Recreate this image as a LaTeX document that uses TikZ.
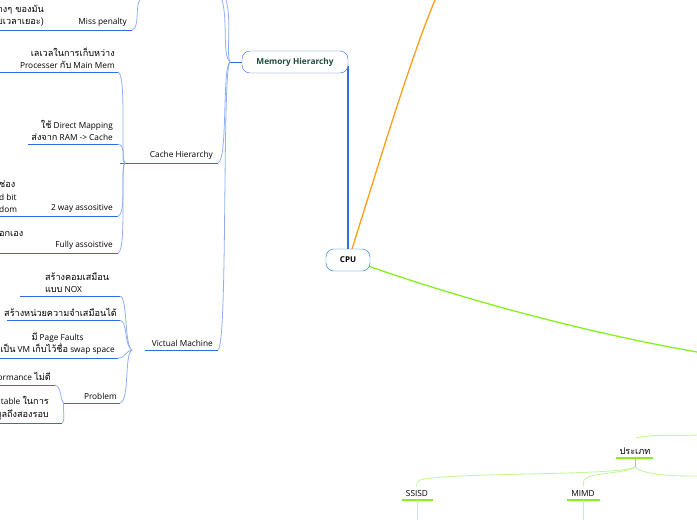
\documentclass[tikz,border=0pt]{standalone}
\usepackage{fontspec}
\setmainfont{Open Sans}
\newfontfamily\thf[Script=Thai,Scale=1.1]{Loma}
\newcommand{\T}[1]{{\thf #1}}
\definecolor{bl}{HTML}{2F6BEA}
\definecolor{lb}{HTML}{8FB0F5}
\definecolor{gr}{HTML}{88F020}
\definecolor{lg}{HTML}{C4F79A}
\definecolor{og}{HTML}{FF9E1B}
\definecolor{dg}{HTML}{1E4D3A}
\begin{document}
\begin{tikzpicture}[x=1pt,y=-1pt,
  txt/.style={font=\fontsize{8.3}{12.5}\selectfont,align=right,anchor=south east,inner sep=1pt},
  ul/.style={bl,line width=1pt},
  br/.style={lb,line width=0.8pt},
  gul/.style={gr,line width=1.3pt},
  gbr/.style={lg,line width=0.9pt}]
\useasboundingbox (0,0) rectangle (697,520);
% main edges
\draw[og,line width=1.3pt] (352,249) .. controls (380,160) and (410,60) .. (435,0);
\draw[gr,line width=1.3pt] (368,266) .. controls (480,305) and (600,335) .. (697,352);
\draw[bl,line width=1.3pt] (348,66) -- (348,249);
\node[draw=bl,rounded corners=8pt,minimum width=106,minimum height=22,fill=white,text=dg,font=\fontsize{8.3}{10}\selectfont\bfseries] (mh) at (295,62) {Memory Hierarchy};
\node[draw=cyan!60!blue,rounded corners=8pt,minimum width=44,minimum height=22,fill=white,font=\fontsize{8}{9}\selectfont\bfseries] (cpu) at (348,260) {CPU};
% left trunk
\coordinate (hub) at (230,62);
\draw[bl,line width=1pt] (mh.west) -- (hub);
\draw[br] (hub) .. controls (222,55) and (228,20) .. (222,0);
\draw[br] (hub) .. controls (226,55) and (232,20) .. (226,0);
% Cache Hierarchy
\node[txt] (ch) at (214,161) {Cache Hierarchy};
\draw[ul] (120,163) -- (218,163);
\draw[br] (218,163) .. controls (228,160) and (222,66) .. (hub);
% Victual Machine
\node[txt] (vm) at (214,348) {Victual Machine};
\draw[ul] (145,350) -- (218,350);
\draw[br] (218,350) .. controls (228,345) and (222,66) .. (hub);
% Miss penalty
\node[txt] (mp) at (128,28) {Miss penalty};
\node[txt] (mpt) at (45,28) {\T{ร่างๆ ของมัน}\\\T{ยเวลาเยอะ)}};
\draw[ul] (0,30) -- (132,30);
\draw[br] (132,30) .. controls (140,28) and (135,5) .. (140,0);
% cache children
\coordinate (chh) at (125,163);
\node[txt] (c1) at (116,70) {\T{เลเวลในการเก็บหว่าง}\\Processer \T{กับ} Main Mem};
\draw[ul] (0,72) -- (118,72);
\draw[br] (118,72) .. controls (127,74) and (120,160) .. (chh);
\node[txt] (c2) at (114,142) {\T{ใช้} Direct Mapping\\\T{ส่งจาก} RAM -> Cache};
\draw[ul] (28,144) -- (118,144);
\draw[br] (118,144) .. controls (127,146) and (120,160) .. (chh);
\node[txt] (c3) at (114,214) {2 way assositive};
\node[txt,align=left,anchor=south west] (c3t) at (-2,214) {\T{ช่อง}\\d bit\\dom};
\draw[ul] (0,216) -- (118,216);
\draw[br] (118,216) .. controls (127,214) and (120,166) .. (chh);
\node[txt] (c4) at (114,251) {Fully assoistive};
\node[txt,align=left,anchor=south west] (c4t) at (-2,238) {\T{อกเอง}};
\draw[ul] (0,253) -- (118,253);
\draw[br] (118,253) .. controls (127,251) and (120,166) .. (chh);
% VM children
\coordinate (vmh) at (132,350);
\node[txt,align=left] (v1) at (118,294) {\T{สร้างคอมเสมือน}\\\T{แบบ} NOX\phantom{xxxxxxxx}};
\draw[ul] (20,296) -- (120,296);
\draw[br] (120,296) .. controls (128,298) and (124,346) .. (vmh);
\node[txt] (v2) at (118,318) {\T{สร้างหน่วยความจำเสมือนได้}};
\draw[ul] (7,320) -- (120,320);
\draw[br] (120,320) .. controls (128,322) and (124,346) .. (vmh);
\node[txt,align=center] (v3) at (116,356) {\T{มี} Page Faults\\\T{เป็น} VM \T{เก็บไว้ชื่อ} swap space};
\draw[ul] (0,358) -- (118,358);
\draw[br] (118,358) .. controls (126,358) and (124,352) .. (vmh);
\node[txt] (pr) at (118,401) {Problem};
\draw[ul] (64,403) -- (120,403);
\draw[br] (120,403) .. controls (130,400) and (124,354) .. (vmh);
% problem children
\coordinate (prh) at (64,403);
\node[txt] (p1) at (52,382) {rformance \T{ไม่ดี}};
\draw[ul] (0,385) -- (55,385);
\draw[br] (55,385) .. controls (62,387) and (60,401) .. (prh);
\node[txt] (p2) at (50,421) {table \T{ในการ}\\\T{มูลถึงสองรอบ}};
\draw[ul] (0,423) -- (62,423);
\draw[br] (62,423) .. controls (66,421) and (62,405) .. (prh);
% green lower part
\node[font=\fontsize{8.3}{9}\selectfont,anchor=south,inner sep=1pt] (ty) at (635,456) {\T{ประเภท}};
\draw[gul] (616,458) -- (653,458);
\draw[gbr] (636,438) .. controls (650,434) and (680,436) .. (697,435);
\coordinate (tyh) at (635,467);
\draw[gr,line width=0.9pt] (635,458) -- (tyh);
\node[font=\fontsize{8.3}{9}\selectfont,anchor=south,inner sep=1pt] (ss) at (417,498) {SSISD};
\draw[gul] (402,500) -- (433,500);
\draw[gbr] (417,500) -- (417,520);
\draw[gbr] (tyh) .. controls (620,476) and (450,472) .. (420,480) .. controls (416,482) and (417,486) .. (417,487);
\node[font=\fontsize{8.3}{9}\selectfont,anchor=south,inner sep=1pt] (mi) at (583,498) {MIMD};
\draw[gul] (567,500) -- (600,500);
\draw[gbr] (583,500) -- (583,520);
\draw[gbr] (tyh) .. controls (625,474) and (590,472) .. (584,480) -- (583,487);
\draw[gbr] (tyh) .. controls (645,476) and (680,476) .. (697,476);
\end{tikzpicture}
\end{document}
